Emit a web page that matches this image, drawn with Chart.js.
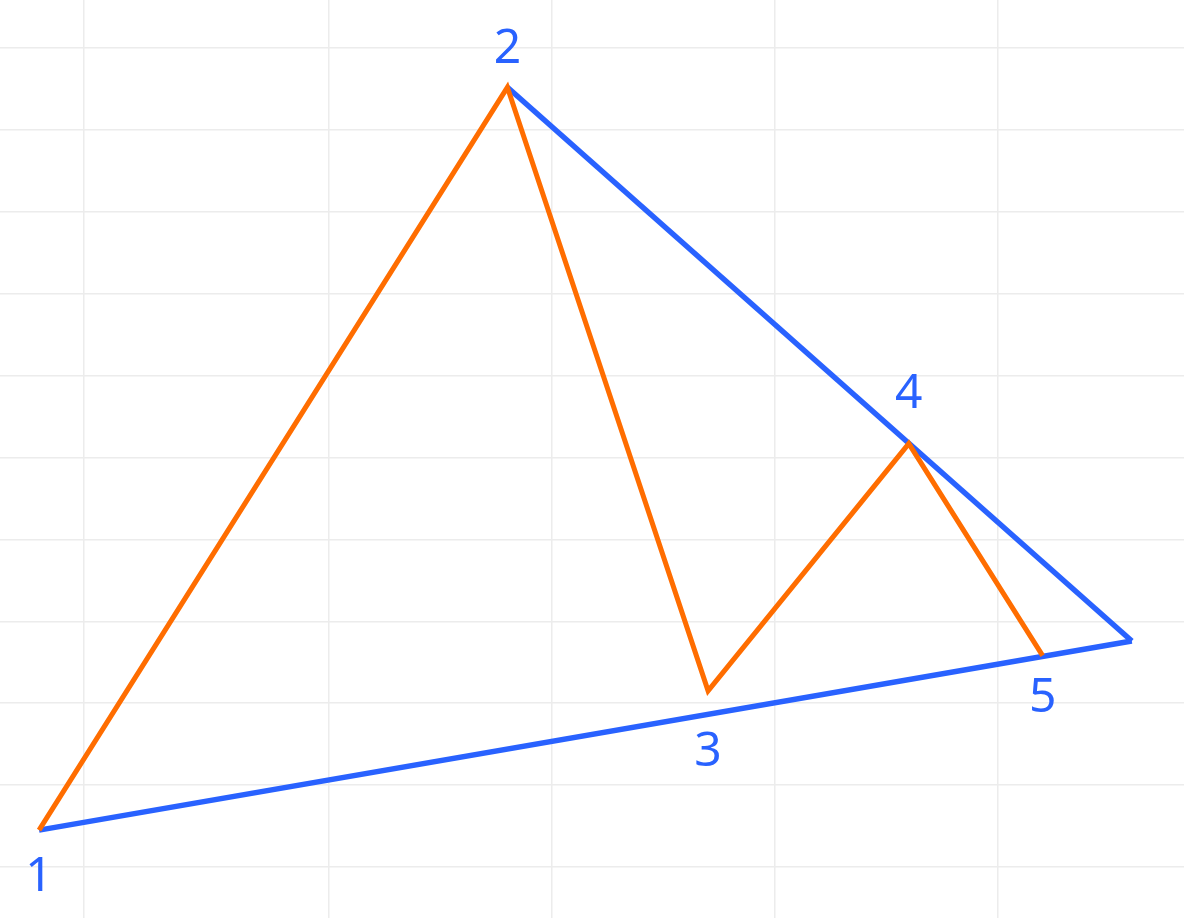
<!DOCTYPE html>
<html>
<head>
<meta charset="utf-8">
<script src="https://cdn.jsdelivr.net/npm/chart.js@4"></script>
<style>
  html, body { margin: 0; padding: 0; background: #fff; }
  #wrap { width: 1184px; height: 918px; position: relative; }
</style>
</head>
<body>
<div id="wrap"><canvas id="chart"></canvas></div>
<script>
// Wave points 1..5 (bar index / price)
const waveX = [7, 28, 37, 46, 52];
const waveY = [14.5, 105.2, 31.5, 61.7, 35.8];
const waveLabels = ['1', '2', '3', '4', '5'];

// Triangle trendlines: lower 1 -> apex, upper 2 -> apex
const lowerX = [7, 56];
const lowerY = [14.5, 37.6];
const upperX = [28, 56];
const upperY = [105.2, 37.6];

// Grid positions
const xTicks = [9, 20, 30, 40, 50];
const yTicks = [10, 20, 30, 40, 50, 60, 70, 80, 90, 100, 110];

const BLUE = '#2962ff';
const ORANGE = '#ff6d00';

const toPoints = (xs, ys) => xs.map((x, i) => ({ x: x, y: ys[i] }));

// Numbers next to each wave point
const waveNumbers = {
    id: 'waveNumbers',
    afterDatasetsDraw(chart) {
        const ctx = chart.ctx;
        const xs = chart.scales.x, ys = chart.scales.y;
        // pixel offsets: negative = above the point
        const offsets = [47, -38, 61, -49, 43];
        ctx.save();
        ctx.font = '48px "Noto Sans"';
        ctx.fillStyle = BLUE;
        ctx.textAlign = 'center';
        ctx.textBaseline = 'middle';
        waveLabels.forEach((t, i) => {
            const px = xs.getPixelForValue(waveX[i]);
            const py = ys.getPixelForValue(waveY[i]);
            ctx.fillText(t, px, py + offsets[i]);
        });
        ctx.restore();
    }
};

new Chart(document.getElementById('chart'), {
    type: 'scatter',
    data: {
        datasets: [
            {
                data: toPoints(waveX, waveY),
                showLine: true,
                borderColor: ORANGE,
                borderWidth: 5,
                pointRadius: 0,
                tension: 0
            },
            {
                data: toPoints(lowerX, lowerY),
                showLine: true,
                borderColor: BLUE,
                borderWidth: 5.5,
                pointRadius: 0
            },
            {
                data: toPoints(upperX, upperY),
                showLine: true,
                borderColor: BLUE,
                borderWidth: 5.5,
                pointRadius: 0
            }
        ]
    },
    options: {
        responsive: true,
        maintainAspectRatio: false,
        animation: false,
        layout: { padding: 0 },
        plugins: {
            legend: { display: false },
            tooltip: { enabled: false }
        },
        scales: {
            x: {
                type: 'linear',
                min: 5.25,
                max: 58.34,
                afterBuildTicks(scale) { scale.ticks = xTicks.map(v => ({ value: v })); },
                ticks: { display: false },
                grid: { color: '#ececec', lineWidth: 1.5, drawTicks: false },
                border: { display: false }
            },
            y: {
                type: 'linear',
                min: 3.77,
                max: 115.86,
                afterBuildTicks(scale) { scale.ticks = yTicks.map(v => ({ value: v })); },
                ticks: { display: false },
                grid: { color: '#ececec', lineWidth: 1.5, drawTicks: false },
                border: { display: false }
            }
        }
    },
    plugins: [waveNumbers]
});
</script>
</body>
</html>
